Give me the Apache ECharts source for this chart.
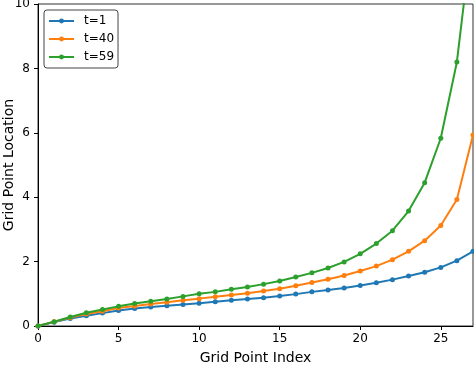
<!DOCTYPE html>
<html>
<head>
<meta charset="utf-8">
<script src="https://cdn.jsdelivr.net/npm/echarts@6/dist/echarts.min.js"></script>
<style>html,body{margin:0;padding:0;background:#fff;}#c{width:474px;height:366px;}</style>
</head>
<body>
<div id="c"></div>
<script>
const gridIndex = [0,1,2,3,4,5,6,7,8,9,10,11,12,13,14,15,16,17,18,19,20,21,22,23,24,25,26,27];
const seriesNames = ['t=1','t=40','t=59'];
const t1 = [0,0.12,0.23,0.32,0.40,0.48,0.54,0.59,0.63,0.67,0.71,0.75,0.80,0.84,0.88,0.93,0.99,1.06,1.12,1.18,1.26,1.34,1.44,1.55,1.67,1.82,2.03,2.32];
const t40 = [0,0.13,0.26,0.37,0.46,0.56,0.62,0.68,0.74,0.80,0.85,0.91,0.96,1.02,1.09,1.16,1.25,1.35,1.45,1.57,1.71,1.86,2.06,2.32,2.65,3.12,3.93,5.93];
const t59 = [0,0.13,0.28,0.41,0.51,0.61,0.70,0.77,0.84,0.92,1.00,1.06,1.14,1.21,1.30,1.40,1.52,1.65,1.80,1.99,2.24,2.56,2.96,3.57,4.45,5.83,8.20,12.4];
const xTicks = [0,5,10,15,20,25];
const yTicks = [0,2,4,6,8,10];
const colors = ['#1f77b4','#ff7f0e','#2ca02c'];
const allData = [t1,t40,t59];

const chart = echarts.init(document.getElementById('c'), null, {renderer:'canvas'});
const font = 'DejaVu Sans';
chart.setOption({
  animation:false,
  textStyle:{fontFamily:font},
  grid:{left:38,right:1,top:4,bottom:40,containLabel:false,outerBoundsMode:'none',show:true,borderColor:'#333',borderWidth:1},
  legend:{
    orient:'vertical',left:44,top:10,
    data:seriesNames,
    itemWidth:25,itemHeight:6,itemGap:4,
    padding:[4,4,4,4],
    borderColor:'#444',borderWidth:1,borderRadius:3,
    textStyle:{fontFamily:font,fontSize:12,color:'#000',padding:[0,0,0,5],lineHeight:14}
  },
  xAxis:{
    type:'value',min:0,max:27,
    name:'Grid Point Index',nameLocation:'middle',nameGap:25,nameMoveOverlap:false,
    nameTextStyle:{fontFamily:font,fontSize:14,color:'#000'},
    axisLine:{show:true,lineStyle:{color:'#000',width:1}},
    axisTick:{show:true,length:4,lineStyle:{color:'#000'},customValues:xTicks},
    axisLabel:{fontFamily:font,fontSize:12,color:'#000',margin:7,customValues:xTicks},
    splitLine:{show:false}
  },
  yAxis:{
    type:'value',min:0,max:10,
    name:'Grid Point Location',nameLocation:'middle',nameGap:22,nameMoveOverlap:false,
    nameTextStyle:{fontFamily:font,fontSize:14,color:'#000'},
    axisLine:{show:true,lineStyle:{color:'#000',width:1}},
    axisTick:{show:true,length:4,lineStyle:{color:'#000'},customValues:yTicks},
    axisLabel:{fontFamily:font,fontSize:12,color:'#000',margin:8,customValues:yTicks},
    splitLine:{show:false}
  },
  series: seriesNames.map((n,i)=>({
    name:n,type:'line',
    data:gridIndex.map((x,j)=>[x,allData[i][j]]),
    symbol:'circle',symbolSize:5,showAllSymbol:true,
    clip:true,
    lineStyle:{color:colors[i],width:2},
    itemStyle:{color:colors[i]},
    z:2+i
  }))
});
</script>
</body>
</html>
